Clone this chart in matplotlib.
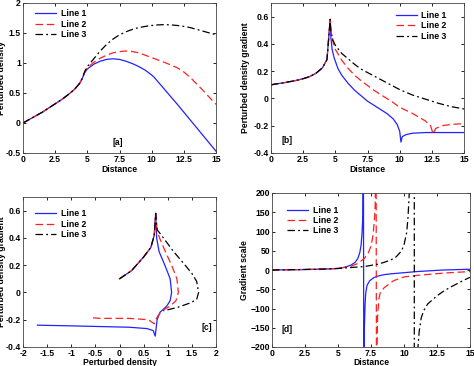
import numpy as np
import matplotlib
matplotlib.use('Agg')
from matplotlib import pyplot as plt

plt.rcParams['font.family'] = ['Liberation Sans', 'DejaVu Sans']
plt.rcParams['font.weight'] = 'bold'
plt.rcParams['axes.labelweight'] = 'bold'
plt.rcParams['font.size'] = 6.2

labels = ['Line 1', 'Line 2', 'Line 3']

# [a] perturbed density vs distance
dist_common = [0, 0.5, 1, 1.5, 2, 2.5, 3, 3.5, 4, 4.4, 4.6]
dens_common = [0, 0.06, 0.12, 0.18, 0.25, 0.32, 0.39, 0.47, 0.56, 0.66, 0.74]
a_x1 = [4.8, 5, 5.5, 6, 6.5, 7, 7.5, 8, 8.5, 9, 9.5, 10, 10.2, 11, 12, 13, 14, 15]
a_y1 = [0.84, 0.9, 0.98, 1.03, 1.06, 1.07, 1.06, 1.03, 0.99, 0.94, 0.88, 0.8, 0.76, 0.56, 0.31, 0.05, -0.21, -0.47]
a_x2 = [4.8, 5, 5.5, 6, 6.5, 7, 7.5, 8, 8.5, 9, 9.5, 10, 10.5, 11, 12, 12.5, 13, 14, 15]
a_y2 = [0.85, 0.92, 1.01, 1.08, 1.13, 1.17, 1.19, 1.2, 1.19, 1.17, 1.13, 1.09, 1.05, 1.01, 0.92, 0.85, 0.76, 0.54, 0.31]
a_x3 = [4.8, 5, 5.5, 6, 6.5, 7, 7.5, 8, 8.5, 9, 9.5, 10, 10.5, 11, 11.5, 12, 12.5, 13, 13.5, 14, 14.5, 15]
a_y3 = [0.86, 0.94, 1.07, 1.2, 1.31, 1.4, 1.47, 1.52, 1.56, 1.59, 1.61, 1.625, 1.635, 1.64, 1.635, 1.625, 1.61, 1.59, 1.56, 1.53, 1.5, 1.47]

# [b] perturbed density gradient vs distance
dist_b_common = [0, 0.5, 1, 1.5, 2, 2.5, 3, 3.5, 4, 4.35, 4.6]
grad_common = [0.1, 0.108, 0.115, 0.124, 0.133, 0.145, 0.16, 0.185, 0.225, 0.285, 0.58]
b_x1 = [4.65, 4.75, 4.9, 5.2, 5.5, 6, 6.5, 7, 7.5, 8, 8.5, 9, 9.5, 9.8, 10, 10.1, 10.2, 10.5, 11, 12, 15]
b_y1 = [0.45, 0.36, 0.3, 0.22, 0.17, 0.11, 0.06, 0.02, -0.02, -0.05, -0.08, -0.11, -0.15, -0.19, -0.24, -0.32, -0.28, -0.265, -0.255, -0.25, -0.25]
b_x2 = [4.65, 4.8, 5, 5.5, 6, 6.5, 7, 7.5, 8, 8.5, 9, 9.5, 10, 11, 12, 12.4, 12.6, 12.8, 13.3, 14, 15]
b_y2 = [0.5, 0.42, 0.36, 0.28, 0.22, 0.17, 0.13, 0.095, 0.06, 0.03, 0.0, -0.03, -0.065, -0.11, -0.165, -0.2, -0.26, -0.22, -0.2, -0.19, -0.185]
b_x3 = [4.65, 4.8, 5, 5.5, 6, 6.5, 7, 7.5, 8, 8.5, 9, 9.5, 10, 10.5, 11, 12, 13, 14, 15]
b_y3 = [0.5, 0.43, 0.39, 0.33, 0.29, 0.25, 0.215, 0.19, 0.165, 0.14, 0.115, 0.09, 0.065, 0.045, 0.025, -0.005, -0.035, -0.06, -0.077]

# [c] gradient vs density (phase plot)
c_x1 = [0, 0.25, 0.5, 0.65, 0.72, 0.75, 0.77, 0.82, 0.94, 1.05, 1.08, 1.05, 0.98, 0.84, 0.78, 0.76, 0.74, 0.7, 0.57, 0.2, -0.4, -1.0, -1.7]
c_y1 = [0.1, 0.16, 0.26, 0.33, 0.42, 0.58, 0.4, 0.3, 0.2, 0.1, 0.0, -0.06, -0.1, -0.145, -0.2, -0.26, -0.32, -0.28, -0.265, -0.255, -0.25, -0.245, -0.24]
c_x2 = [0, 0.25, 0.5, 0.65, 0.72, 0.75, 0.78, 0.83, 0.95, 1.08, 1.19, 1.22, 1.17, 1.05, 0.9, 0.8, 0.75, 0.72, 0.6, 0.2, -0.4, -0.59]
c_y2 = [0.1, 0.16, 0.26, 0.33, 0.42, 0.58, 0.45, 0.4, 0.3, 0.2, 0.1, 0.0, -0.06, -0.1, -0.13, -0.17, -0.2, -0.23, -0.2, -0.19, -0.19, -0.185]
c_x3 = [0, 0.25, 0.5, 0.65, 0.72, 0.75, 0.78, 0.91, 1.12, 1.36, 1.5, 1.6, 1.64, 1.6, 1.48, 1.36, 1.2, 1.08, 0.91]
c_y3 = [0.1, 0.16, 0.26, 0.33, 0.42, 0.58, 0.46, 0.4, 0.3, 0.2, 0.14, 0.08, 0.0, -0.05, -0.075, -0.09, -0.11, -0.12, -0.135]

# [d] gradient scale vs distance
d_x1 = [0, 1, 2, 3, 4, 5, 5.5, 6, 6.3, 6.5, 6.65, 6.75, 6.82, 6.88, 6.92, 6.96, 7.0, 7.05, 7.1, 7.2, 7.4, 7.7, 8, 8.5, 9, 10, 11, 12, 13, 14, 15]
d_y1 = [0, 0.5, 1, 1.5, 2.5, 4, 7, 13, 20, 30, 45, 65, 95, 140, 400, -400, -150, -90, -60, -40, -28, -20, -16, -12, -10, -7, -4, -2, 0, 1, 2]
d_x2 = [0, 2, 4, 5, 6, 6.5, 7, 7.3, 7.5, 7.65, 7.75, 7.82, 7.88, 7.92, 7.96, 8.0, 8.1, 8.2, 8.5, 9.2, 10, 11, 12, 13, 14, 15]
d_y2 = [0, 1, 2.5, 4, 10, 17, 30, 45, 62, 90, 125, 170, 400, -400, -200, -120, -75, -59, -46, -28, -18, -14, -11, -8, -6, -4]
d_x3 = [0, 2, 4, 5, 6, 7, 8, 8.5, 9, 9.4, 9.8, 10, 10.2, 10.3, 10.4, 10.5, 10.78, 10.78, 11.06, 11.15, 11.3, 11.5, 11.8, 12.2, 12.5, 13, 13.5, 14, 14.5, 15]
d_y3 = [0, 1, 2.5, 4, 6.5, 9, 15, 20, 26, 34, 49, 65, 97, 135, 200, 400, 8000, -8000, -200, -160, -125, -105, -88, -76, -67, -55, -45, -36, -27, -19]

W, H = 474, 366
fig = plt.figure(figsize=(W / 100, H / 100), dpi=100)

def box(l, r, t, b):
    return [l / W, (H - b) / H, (r - l) / W, (b - t) / H]

styles = [dict(color='#2222ff', ls='-', lw=0.9),
          dict(color='#ff2020', ls=(0, (6, 3)), lw=0.9),
          dict(color='black', ls=(0, (6, 2.5, 1.5, 2.5)), lw=0.9)]

def setup(ax, ylab_x):
    ax.tick_params(direction='in', top=True, right=True, length=2.5, width=0.6,
                   labelsize=6.2, pad=1.5)
    for t in ax.get_xticklabels() + ax.get_yticklabels():
        t.set_fontweight('bold')
    for s in ax.spines.values():
        s.set_linewidth(0.6)
        s.set_color('#444444')
    ax.yaxis.set_label_coords(ylab_x, 0.5)

def legend(ax, loc, anchor):
    leg = ax.legend(labels, loc=loc, bbox_to_anchor=anchor, frameon=False, fontsize=6.3,
                    handlelength=2.4, handletextpad=0.5, labelspacing=0.15, borderaxespad=0)
    for t in leg.get_texts():
        t.set_fontweight('bold')

xt = ['0', '2.5', '5', '7.5', '10', '12.5', '15']

# [a]
ax = fig.add_axes(box(23, 216, 3, 153))
ax.plot(dist_common + a_x1, dens_common + a_y1, **styles[0])
ax.plot(dist_common + a_x2, dens_common + a_y2, **styles[1])
ax.plot(dist_common + a_x3, dens_common + a_y3, **styles[2])
ax.set_xlim(0, 15); ax.set_ylim(-0.5, 2)
ax.set_xticks(np.arange(0, 15.1, 2.5)); ax.set_yticks(np.arange(-0.5, 2.01, 0.5))
ax.set_xticklabels(xt)
ax.set_yticklabels(['-0.5', '0', '0.5', '1', '1.5', '2'])
ax.set_xlabel('Distance', labelpad=0.5)
ax.set_ylabel('Perturbed density')
ax.text(7.4, -0.32, '[a]', ha='center', va='center', fontweight='bold')
setup(ax, -17 / 193)
legend(ax, 'upper left', (0.045, 0.98))

# [b]
ax = fig.add_axes(box(271, 464, 3, 153))
ax.plot(dist_b_common + b_x1, grad_common + b_y1, **styles[0])
ax.plot(dist_b_common + b_x2, grad_common + b_y2, **styles[1])
ax.plot(dist_b_common + b_x3, grad_common + b_y3, **styles[2])
ax.set_xlim(0, 15); ax.set_ylim(-0.4, 0.7)
ax.set_xticks(np.arange(0, 15.1, 2.5)); ax.set_yticks(np.arange(-0.4, 0.61, 0.2))
ax.set_xticklabels(xt)
ax.set_yticklabels(['-0.4', '-0.2', '0', '0.2', '0.4', '0.6'])
ax.set_xlabel('Distance', labelpad=0.5)
ax.set_ylabel('Perturbed density gradient')
ax.text(1.25, -0.31, '[b]', ha='center', va='center', fontweight='bold')
setup(ax, -21 / 193)
legend(ax, 'upper left', (0.63, 0.97))

# [c]
ax = fig.add_axes(box(23, 216, 197, 347))
ax.plot(c_x1, c_y1, **styles[0])
ax.plot(c_x2, c_y2, **styles[1])
ax.plot(c_x3, c_y3, **styles[2])
ax.set_xlim(-2, 2); ax.set_ylim(-0.4, 0.7)
ax.set_xticks(np.arange(-2, 2.01, 0.5)); ax.set_yticks(np.arange(-0.4, 0.61, 0.2))
ax.set_xticklabels(['-2', '-1.5', '-1', '-0.5', '0', '0.5', '1', '1.5', '2'])
ax.set_yticklabels(['-0.4', '-0.2', '0', '0.2', '0.4', '0.6'])
ax.set_xlabel('Perturbed density', labelpad=0)
ax.set_ylabel('Perturbed density gradient')
ax.text(1.81, -0.26, '[c]', ha='center', va='center', fontweight='bold')
setup(ax, -17 / 193)
legend(ax, 'upper left', (0.045, 0.94))

# [d]
ax = fig.add_axes(box(272, 470, 193, 347))
ax.plot(d_x1, d_y1, **styles[0])
ax.plot(d_x2, d_y2, **styles[1])
ax.plot(d_x3, d_y3, **styles[2])
ax.set_xlim(0, 15); ax.set_ylim(-200, 200)
ax.set_xticks(np.arange(0, 15.1, 2.5)); ax.set_yticks(np.arange(-200, 201, 50))
ax.set_xticklabels(xt)
ax.set_xlabel('Distance', labelpad=0)
ax.set_ylabel('Gradient scale')
ax.text(1.14, -154, '[d]', ha='center', va='center', fontweight='bold')
setup(ax, -23 / 198)
legend(ax, 'upper left', (0.06, 0.94))

fig.savefig('out.png', dpi=100)
